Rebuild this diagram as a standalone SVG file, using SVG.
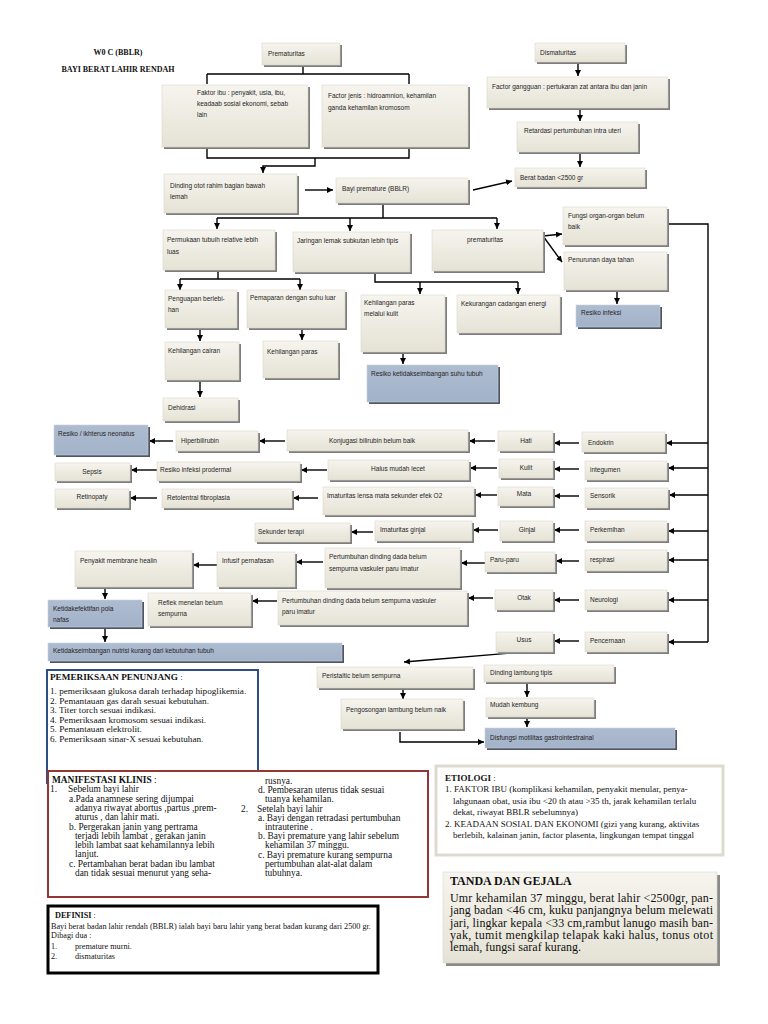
<svg xmlns="http://www.w3.org/2000/svg" width="768" height="1024" viewBox="0 0 768 1024">
<style>
.sh{fill:#7d7d7d}
.bx{fill:url(#gb);stroke:#d9d6ca;stroke-width:0.6}
.bl{fill:url(#gl);stroke:#c9d1dc;stroke-width:0.6}
.shb{fill:#4f5561}
.t{font-family:"Liberation Sans",Arial,sans-serif;font-size:6.5px;fill:#1e1e1e}
.s{font-family:"Liberation Serif","Times New Roman",serif;fill:#111}
.m{font-size:9.4px}
.c{fill:none;stroke:#000;stroke-width:1.4}
.a{fill:none;stroke:#000;stroke-width:1.4;marker-end:url(#ah)}
</style>
<defs>
<linearGradient id="gb" x1="0" y1="0" x2="0" y2="1"><stop offset="0" stop-color="#f6f4ee"/><stop offset="1" stop-color="#e5e2d5"/></linearGradient>
<linearGradient id="gl" x1="0" y1="0" x2="0" y2="1"><stop offset="0" stop-color="#aebcd0"/><stop offset="1" stop-color="#a2b2c8"/></linearGradient>
<marker id="ah" markerUnits="userSpaceOnUse" markerWidth="7" markerHeight="7" refX="6" refY="3" orient="auto"><path d="M0,0 L6,3 L0,6 z" fill="#000"/></marker>
</defs>
<rect width="768" height="1024" fill="#fff"/>

<g id="title">
<text class="s" x="118" y="55" font-size="8" font-weight="bold" text-anchor="middle">W0 C (BBLR)</text>
<text class="s" x="118" y="72" font-size="8" font-weight="bold" text-anchor="middle">BAYI BERAT LAHIR RENDAH</text>
</g>

<g id="connectors">
<path class="c" d="M303,67 V74 M207,74 H409 M207,74 V84 M409,74 V84"/>
<path class="c" d="M207,148 V158 H409 V148"/>
<path class="a" d="M315,158 V166 H263 V173"/>
<path class="a" d="M305,190 H333"/>
<path class="a" d="M473,190 L512,181"/>
<path class="a" d="M578,62 V76"/>
<path class="a" d="M580,108 V121"/>
<path class="a" d="M580,152 V167"/>
<path class="c" d="M383,203 V218 M217,218 H497"/>
<path class="a" d="M217,218 V229"/>
<path class="a" d="M350,218 V231"/>
<path class="a" d="M497,218 V229"/>
<path class="c" d="M218,270 V279 M180,279 H300"/>
<path class="a" d="M180,279 V290"/>
<path class="a" d="M300,279 V290"/>
<path class="c" d="M375,272 V282 H518"/>
<path class="a" d="M420,282 V294"/>
<path class="a" d="M518,282 V294"/>
<path class="a" d="M543,236 L562,234"/>
<path class="a" d="M543,236 L562,262"/>
<path class="a" d="M617,290 V304"/>
<path class="a" d="M200,328 V341"/>
<path class="a" d="M200,380 V397"/>
<path class="a" d="M302,328 V340"/>
<path class="a" d="M403,352 V364"/>
<path class="c" d="M667,224 H708 V642"/>
<path class="a" d="M708,443 H666"/>
<path class="a" d="M708,468 H668"/>
<path class="a" d="M708,495 H669"/>
<path class="a" d="M708,531 H668"/>
<path class="a" d="M708,560 H668"/>
<path class="a" d="M708,600 H668"/>
<path class="a" d="M708,642 H668"/>
<path class="a" d="M579,443 H554"/>
<path class="a" d="M495,441 H469"/>
<path class="a" d="M285,441 H259"/>
<path class="a" d="M173,441 H149"/>
<path class="a" d="M579,469 H554"/>
<path class="a" d="M497,468 H470"/>
<path class="a" d="M327,470 H301"/>
<path class="a" d="M157,470 H131"/>
<path class="a" d="M579,496 H554"/>
<path class="a" d="M497,495 H475"/>
<path class="a" d="M318,498 H293"/>
<path class="a" d="M157,498 H130"/>
<path class="a" d="M579,530 H554"/>
<path class="a" d="M498,530 H473"/>
<path class="a" d="M373,532 H351"/>
<path class="a" d="M579,561 H556"/>
<path class="a" d="M485,563 H461"/>
<path class="a" d="M323,562 H296"/>
<path class="a" d="M217,565 H193"/>
<path class="a" d="M579,600 H554"/>
<path class="a" d="M493,598 H468"/>
<path class="a" d="M277,601 H252"/>
<path class="a" d="M579,641 H554"/>
<path class="a" d="M105,587 V599"/>
<path class="a" d="M105,627 V642"/>
<path class="a" d="M512,653 L404,662"/>
<path class="a" d="M403,688 V699"/>
<path class="a" d="M400,732 V742 H484"/>
<path class="a" d="M527,682 V697"/>
<path class="a" d="M527,717 V727"/>
</g>

<g id="n-prematuritas"><rect class="sh" x="264" y="45" width="78" height="22"/><rect class="bx" x="262" y="43" width="78" height="22"/><text class="t" x="268" y="56">Prematuritas</text></g>
<g id="n-faktor-ibu"><rect class="sh" x="164" y="87" width="146" height="62"/><rect class="bx" x="162" y="85" width="146" height="62"/><text class="t" x="197" y="95">Faktor ibu : penyakit, usia, ibu,</text><text class="t" x="197" y="106">keadaab sosial ekonomi, sebab</text><text class="t" x="197" y="117">lain</text></g>
<g id="n-factor-jenis"><rect class="sh" x="324" y="87" width="146" height="62"/><rect class="bx" x="322" y="85" width="146" height="62"/><text class="t" x="328" y="98">Factor jenis : hidroamnion, kehamilan</text><text class="t" x="328" y="110">ganda kehamilan kromosom</text></g>
<g id="n-dinding-otot"><rect class="sh" x="166" y="176" width="133" height="39"/><rect class="bx" x="164" y="174" width="133" height="39"/><text class="t" x="170" y="188">Dinding otot rahim bagian bawah</text><text class="t" x="170" y="199">lemah</text></g>
<g id="n-bayi-premature"><rect class="sh" x="338" y="180" width="132" height="25"/><rect class="bx" x="336" y="178" width="132" height="25"/><text class="t" x="342" y="191">Bayi premature (BBLR)</text></g>
<g id="n-dismaturitas"><rect class="sh" x="537" y="45" width="90" height="19"/><rect class="bx" x="535" y="43" width="90" height="19"/><text class="t" x="540" y="55">Dismaturitas</text></g>
<g id="n-factor-gangguan"><rect class="sh" x="489" y="79" width="181" height="31"/><rect class="bx" x="487" y="77" width="181" height="31"/><text class="t" x="492" y="89">Factor gangguan : pertukaran zat antara ibu dan janin</text></g>
<g id="n-retardasi"><rect class="sh" x="519" y="124" width="121" height="30"/><rect class="bx" x="517" y="122" width="121" height="30"/><text class="t" x="524" y="133">Retardasi pertumbuhan intra uteri</text></g>
<g id="n-berat-badan"><rect class="sh" x="517" y="170" width="130" height="19"/><rect class="bx" x="515" y="168" width="130" height="19"/><text class="t" x="520" y="180">Berat badan &lt;2500 gr</text></g>
<g id="n-permukaan"><rect class="sh" x="165" y="232" width="112" height="40"/><rect class="bx" x="163" y="230" width="112" height="40"/><text class="t" x="167" y="242">Permukaan tubuih relative lebih</text><text class="t" x="167" y="254">luas</text></g>
<g id="n-jaringan"><rect class="sh" x="295" y="234" width="117" height="40"/><rect class="bx" x="293" y="232" width="117" height="40"/><text class="t" x="297" y="243">Jaringan lemak subkutan lebih tipis</text></g>
<g id="n-prematuritas2"><rect class="sh" x="434" y="232" width="111" height="41"/><rect class="bx" x="432" y="230" width="111" height="41"/><text class="t" x="467" y="242">prematuritas</text></g>
<g id="n-fungsi-organ"><rect class="sh" x="565" y="209" width="104" height="38"/><rect class="bx" x="563" y="207" width="104" height="38"/><text class="t" x="568" y="218">Fungsi organ-organ belum</text><text class="t" x="568" y="229">baik</text></g>
<g id="n-penurunan"><rect class="sh" x="566" y="254" width="103" height="38"/><rect class="bx" x="564" y="252" width="103" height="38"/><text class="t" x="568" y="262">Penurunan daya tahan</text></g>
<g id="n-resiko-infeksi"><rect class="shb" x="578" y="307" width="84" height="22"/><rect class="bl" x="576" y="305" width="84" height="22"/><text class="t" x="581" y="315">Resiko infeksi</text></g>
<g id="n-penguapan"><rect class="sh" x="167" y="292" width="72" height="38"/><rect class="bx" x="165" y="290" width="72" height="38"/><text class="t" x="168" y="301">Penguapan berlebi-</text><text class="t" x="168" y="312">han</text></g>
<g id="n-pemaparan"><rect class="sh" x="249" y="292" width="98" height="38"/><rect class="bx" x="247" y="290" width="98" height="38"/><text class="t" x="250" y="300">Pemaparan dengan suhu luar</text></g>
<g id="n-kehilangan-kulit"><rect class="sh" x="363" y="297" width="84" height="57"/><rect class="bx" x="361" y="295" width="84" height="57"/><text class="t" x="364" y="305">Kehilangan paras</text><text class="t" x="364" y="316">melalui kulit</text></g>
<g id="n-kekurangan"><rect class="sh" x="459" y="297" width="103" height="38"/><rect class="bx" x="457" y="295" width="103" height="38"/><text class="t" x="461" y="306">Kekurangan cadangan energi</text></g>
<g id="n-kehilangan-cairan"><rect class="sh" x="167" y="344" width="74" height="38"/><rect class="bx" x="165" y="342" width="74" height="38"/><text class="t" x="168" y="353">Kehilangan cairan</text></g>
<g id="n-dehidrasi"><rect class="sh" x="165" y="400" width="75" height="23"/><rect class="bx" x="163" y="398" width="75" height="23"/><text class="t" x="168" y="410">Dehidrasi</text></g>
<g id="n-kehilangan-paras"><rect class="sh" x="265" y="343" width="75" height="37"/><rect class="bx" x="263" y="341" width="75" height="37"/><text class="t" x="267" y="354">Kehilangan paras</text></g>
<g id="n-resiko-suhu"><rect class="shb" x="369" y="367" width="131" height="37"/><rect class="bl" x="367" y="365" width="131" height="37"/><text class="t" x="371" y="376">Resiko ketidakseimbangan suhu tubuh</text></g>

<g id="n-endokrin"><rect class="sh" x="584" y="434" width="83" height="20"/><rect class="bx" x="582" y="432" width="83" height="20"/><text class="t" x="588" y="445">Endokrin</text></g>
<g id="n-hati"><rect class="sh" x="500" y="433" width="55" height="20"/><rect class="bx" x="498" y="431" width="55" height="20"/><text class="t" x="526" y="443" text-anchor="middle">Hati</text></g>
<g id="n-konjugasi"><rect class="sh" x="289" y="432" width="181" height="21"/><rect class="bx" x="287" y="430" width="181" height="21"/><text class="t" x="329" y="443">Konjugasi bilirubin belum baik</text></g>
<g id="n-hiperbilirubin"><rect class="sh" x="178" y="433" width="82" height="20"/><rect class="bx" x="176" y="431" width="82" height="20"/><text class="t" x="181" y="443">Hiperbilirubin</text></g>
<g id="n-ikhterus"><rect class="shb" x="56" y="427" width="94" height="30"/><rect class="bl" x="54" y="425" width="94" height="30"/><text class="t" x="58" y="436">Resiko / ikhterus neonatus</text></g>

<g id="n-integumen"><rect class="sh" x="587" y="463" width="82" height="19"/><rect class="bx" x="585" y="461" width="82" height="19"/><text class="t" x="590" y="472">integumen</text></g>
<g id="n-kulit"><rect class="sh" x="501" y="461" width="54" height="19"/><rect class="bx" x="499" y="459" width="54" height="19"/><text class="t" x="526" y="470" text-anchor="middle">Kulit</text></g>
<g id="n-halus"><rect class="sh" x="330" y="462" width="141" height="20"/><rect class="bx" x="328" y="460" width="141" height="20"/><text class="t" x="398" y="471" text-anchor="middle">Halus mudah lecet</text></g>
<g id="n-resiko-prodermal"><rect class="sh" x="159" y="464" width="143" height="19"/><rect class="bx" x="157" y="462" width="143" height="19"/><text class="t" x="160" y="472">Resiko infeksi prodermal</text></g>
<g id="n-sepsis"><rect class="sh" x="57" y="465" width="75" height="18"/><rect class="bx" x="55" y="463" width="75" height="18"/><text class="t" x="92" y="474" text-anchor="middle">Sepsis</text></g>

<g id="n-sensorik"><rect class="sh" x="587" y="490" width="83" height="20"/><rect class="bx" x="585" y="488" width="83" height="20"/><text class="t" x="590" y="498">Sensorik</text></g>
<g id="n-mata"><rect class="sh" x="500" y="489" width="55" height="19"/><rect class="bx" x="498" y="487" width="55" height="19"/><text class="t" x="524" y="496" text-anchor="middle">Mata</text></g>
<g id="n-imaturitas-lensa"><rect class="sh" x="325" y="489" width="151" height="28"/><rect class="bx" x="323" y="487" width="151" height="28"/><text class="t" x="327" y="498">Imaturitas lensa mata sekunder efek O2</text></g>
<g id="n-retolentral"><rect class="sh" x="164" y="491" width="130" height="19"/><rect class="bx" x="162" y="489" width="130" height="19"/><text class="t" x="167" y="500">Retolentral fibroplasia</text></g>
<g id="n-retinopaty"><rect class="sh" x="57" y="491" width="74" height="19"/><rect class="bx" x="55" y="489" width="74" height="19"/><text class="t" x="92" y="499" text-anchor="middle">Retinopaty</text></g>

<g id="n-perkemihan"><rect class="sh" x="587" y="523" width="82" height="20"/><rect class="bx" x="585" y="521" width="82" height="20"/><text class="t" x="590" y="532">Perkemihan</text></g>
<g id="n-ginjal"><rect class="sh" x="502" y="523" width="53" height="20"/><rect class="bx" x="500" y="521" width="53" height="20"/><text class="t" x="527" y="532" text-anchor="middle">Ginjal</text></g>
<g id="n-imaturitas-ginjal"><rect class="sh" x="377" y="523" width="97" height="20"/><rect class="bx" x="375" y="521" width="97" height="20"/><text class="t" x="380" y="532">Imaturitas ginjal</text></g>
<g id="n-sekunder"><rect class="sh" x="257" y="525" width="95" height="19"/><rect class="bx" x="255" y="523" width="95" height="19"/><text class="t" x="258" y="534">Sekunder terapi</text></g>

<g id="n-respirasi"><rect class="sh" x="587" y="552" width="82" height="21"/><rect class="bx" x="585" y="550" width="82" height="21"/><text class="t" x="590" y="562">respirasi</text></g>
<g id="n-paru"><rect class="sh" x="487" y="554" width="70" height="20"/><rect class="bx" x="485" y="552" width="70" height="20"/><text class="t" x="490" y="562">Paru-paru</text></g>
<g id="n-pertumbuhan1"><rect class="sh" x="327" y="550" width="135" height="40"/><rect class="bx" x="325" y="548" width="135" height="40"/><text class="t" x="329" y="559">Pertumbuhan dinding dada belum</text><text class="t" x="329" y="571">sempurna vaskuler paru imatur</text></g>
<g id="n-infusif"><rect class="sh" x="219" y="554" width="78" height="35"/><rect class="bx" x="217" y="552" width="78" height="35"/><text class="t" x="222" y="563">Infusif pernafasan</text></g>
<g id="n-penyakit-membrane"><rect class="sh" x="77" y="553" width="117" height="36"/><rect class="bx" x="75" y="551" width="117" height="36"/><text class="t" x="80" y="563">Penyakit membrane healin</text></g>
<g id="n-pola-nafas"><rect class="shb" x="50" y="602" width="94" height="27"/><rect class="bl" x="48" y="600" width="94" height="27"/><text class="t" x="53" y="611">Ketidakefektifan pola</text><text class="t" x="53" y="622">nafas</text></g>
<g id="n-nutrisi"><rect class="shb" x="50" y="645" width="294" height="18"/><rect class="bl" x="48" y="643" width="294" height="18"/><text class="t" x="53" y="653">Ketidakseimbangan nutrisi kurang dari kebutuhan tubuh</text></g>

<g id="n-neurologi"><rect class="sh" x="587" y="592" width="82" height="20"/><rect class="bx" x="585" y="590" width="82" height="20"/><text class="t" x="590" y="602">Neurologi</text></g>
<g id="n-otak"><rect class="sh" x="497" y="592" width="58" height="20"/><rect class="bx" x="495" y="590" width="58" height="20"/><text class="t" x="524" y="600" text-anchor="middle">Otak</text></g>
<g id="n-pertumbuhan2"><rect class="sh" x="280" y="593" width="189" height="34"/><rect class="bx" x="278" y="591" width="189" height="34"/><text class="t" x="282" y="603">Pertumbuhan dinding dada belum sempurna vaskuler</text><text class="t" x="282" y="614">paru imatur</text></g>
<g id="n-reflek"><rect class="sh" x="150" y="595" width="103" height="33"/><rect class="bx" x="148" y="593" width="103" height="33"/><text class="t" x="158" y="605">Reflek menelan belum</text><text class="t" x="158" y="616">sempurna</text></g>

<g id="n-pencernaan"><rect class="sh" x="587" y="634" width="82" height="20"/><rect class="bx" x="585" y="632" width="82" height="20"/><text class="t" x="590" y="643">Pencernaan</text></g>
<g id="n-usus"><rect class="sh" x="498" y="634" width="57" height="20"/><rect class="bx" x="496" y="632" width="57" height="20"/><text class="t" x="524" y="642" text-anchor="middle">Usus</text></g>
<g id="n-peristaltic"><rect class="sh" x="319" y="669" width="156" height="21"/><rect class="bx" x="317" y="667" width="156" height="21"/><text class="t" x="322" y="678">Peristaltic belum sempurna</text></g>
<g id="n-pengosongan"><rect class="sh" x="343" y="701" width="122" height="30"/><rect class="bx" x="341" y="699" width="122" height="30"/><text class="t" x="346" y="712">Pengosongan lambung belum naik</text></g>
<g id="n-dinding-lambung"><rect class="sh" x="486" y="667" width="130" height="17"/><rect class="bx" x="484" y="665" width="130" height="17"/><text class="t" x="490" y="675">Dinding lambung tipis</text></g>
<g id="n-mudah-kembung"><rect class="sh" x="488" y="700" width="108" height="19"/><rect class="bx" x="486" y="698" width="108" height="19"/><text class="t" x="490" y="707">Mudah kembung</text></g>
<g id="n-disfungsi"><rect class="shb" x="487" y="730" width="190" height="20"/><rect class="bl" x="485" y="728" width="190" height="20"/><text class="t" x="490" y="740">Disfungsi motilitas gastrointestrainal</text></g>

<g id="pemeriksaan">
<rect x="47" y="670" width="211" height="113" fill="#fff" stroke="#2e4f86" stroke-width="2"/>
<text class="s" font-size="9.2" x="50" y="680"><tspan font-weight="bold">PEMERIKSAAN PENUNJANG</tspan> :</text>
<text class="s" font-size="9.2" x="50" y="694">1. pemeriksaan glukosa darah terhadap hipoglikemia.</text>
<text class="s" font-size="9.2" x="50" y="703.5">2. Pemantauan  gas darah sesuai kebutuhan.</text>
<text class="s" font-size="9.2" x="50" y="713">3. Titer torch sesuai indikasi.</text>
<text class="s" font-size="9.2" x="50" y="722.5">4. Pemeriksaan kromosom  sesuai indikasi.</text>
<text class="s" font-size="9.2" x="50" y="732">5. Pemantauan elektrolit.</text>
<text class="s" font-size="9.2" x="50" y="741.5">6. Pemeriksaan  sinar-X sesuai kebutuhan.</text>
</g>

<g id="manifestasi">
<rect x="48" y="771" width="380" height="126" fill="#fff" stroke="#943634" stroke-width="2"/>
<text class="s m" x="52" y="783"><tspan font-weight="bold">MANIFESTASI KLINIS</tspan> :</text>
<text class="s m" x="50" y="792.3">1.</text><text class="s m" x="68" y="792.3">Sebelum bayi lahir</text>
<text class="s m" x="69" y="801.6">a.Pada anamnese  sering dijumpai</text>
<text class="s m" x="75" y="810.9">adanya riwayat abortus ,partus ,prem-</text>
<text class="s m" x="75" y="820.2">aturus , dan lahir mati.</text>
<text class="s m" x="69" y="829.5">b. Pergerakan janin yang pertrama</text>
<text class="s m" x="75" y="838.8">terjadi lebih lambat  , gerakan janin</text>
<text class="s m" x="75" y="848.1">lebih lambat saat kehamilannya lebih</text>
<text class="s m" x="75" y="857.4">lanjut.</text>
<text class="s m" x="69" y="866.7">c.  Pertambahan berat badan ibu lambat</text>
<text class="s m" x="75" y="876">dan tidak sesuai menurut yang seha-</text>
<text class="s m" x="265" y="784">rusnya.</text>
<text class="s m" x="258" y="793.2">d. Pembesaran uterus tidak sesuai</text>
<text class="s m" x="265" y="802.4">tuanya kehamilan.</text>
<text class="s m" x="241" y="811.6">2.</text><text class="s m" x="257" y="811.6">Setelah bayi lahir</text>
<text class="s m" x="258" y="820.8">a. Bayi dengan retradasi pertumbuhan</text>
<text class="s m" x="265" y="830">intrauterine .</text>
<text class="s m" x="258" y="839.2">b. Bayi premature yang lahir sebelum</text>
<text class="s m" x="265" y="848.4">kehamilan 37 minggu.</text>
<text class="s m" x="258" y="857.6">c. Bayi premature kurang sempurna</text>
<text class="s m" x="265" y="866.8">pertumbuhan alat-alat dalam</text>
<text class="s m" x="265" y="876">tubuhnya.</text>
</g>

<g id="etiologi">
<rect x="436" y="766" width="287" height="89" fill="#fff" stroke="#dddbd0" stroke-width="3"/>
<text class="s" font-size="9" x="445" y="781"><tspan font-weight="bold">ETIOLOGI</tspan> :</text>
<text class="s" font-size="9" x="445" y="792">1. FAKTOR IBU (komplikasi kehamilan, penyakit menular, penya-</text>
<text class="s" font-size="9" x="453" y="804">lahgunaan obat, usia ibu &lt;20 th atau &gt;35 th, jarak kehamilan terlalu</text>
<text class="s" font-size="9" x="453" y="815">dekat, riwayat BBLR sebelumnya)</text>
<text class="s" font-size="9" x="445" y="827">2. KEADAAN SOSIAL DAN EKONOMI (gizi yang kurang, aktivitas</text>
<text class="s" font-size="9" x="453" y="838">berlebih, kalainan janin, factor plasenta, lingkungan tempat tinggal</text>
</g>

<g id="tanda-gejala">
<rect x="446" y="875" width="274" height="91" fill="#8a8a8a"/>
<rect x="443" y="872" width="274" height="91" fill="url(#gb)" stroke="#d9d6ca" stroke-width="0.6"/>
<text class="s" font-size="12" font-weight="bold" x="450" y="885">TANDA DAN GEJALA</text>
<text class="s" font-size="12" x="450" y="902" textLength="263" lengthAdjust="spacing">Umr kehamilan 37 minggu, berat lahir &lt;2500gr,  pan-</text>
<text class="s" font-size="12" x="450" y="914" textLength="263" lengthAdjust="spacing">jang badan &lt;46 cm, kuku panjangnya belum melewati</text>
<text class="s" font-size="12" x="450" y="927" textLength="263" lengthAdjust="spacing">jari, lingkar kepala &lt;33 cm,rambut lanugo masih ban-</text>
<text class="s" font-size="12" x="450" y="939" textLength="263" lengthAdjust="spacing">yak, tumit mengkilap telapak kaki halus, tonus otot</text>
<text class="s" font-size="12" x="450" y="951">lemah, fungsi saraf kurang.</text>
</g>

<g id="definisi">
<rect x="48" y="906" width="330" height="67" fill="#fff" stroke="#000" stroke-width="3"/>
<text class="s" font-size="8.2" x="55" y="918"><tspan font-weight="bold">DEFINISI</tspan> :</text>
<text class="s" font-size="8.2" x="51" y="929">Bayi berat badan lahir rendah (BBLR) ialah bayi baru lahir yang berat badan kurang dari 2500 gr.</text>
<text class="s" font-size="8.2" x="51" y="938">Dibagi dua :</text>
<text class="s" font-size="8.2" x="51" y="949">1.</text><text class="s" font-size="8.2" x="75" y="949">premature murni.</text>
<text class="s" font-size="8.2" x="51" y="959">2.</text><text class="s" font-size="8.2" x="75" y="959">dismaturitas</text>
</g>
</svg>
